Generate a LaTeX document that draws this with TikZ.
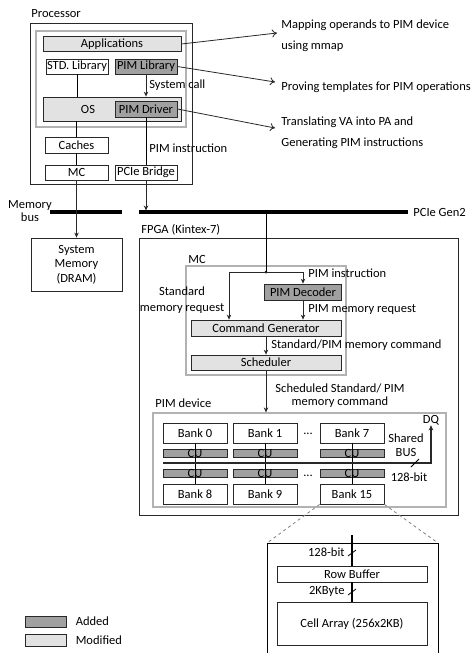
\documentclass[tikz,border=0pt]{standalone}
\usepackage{fontspec}
\setmainfont{Carlito}
\usetikzlibrary{arrows.meta,positioning,calc}
\definecolor{AddGray}{RGB}{160,160,160}
\definecolor{ModGray}{RGB}{226,226,226}
\definecolor{FrameGray}{RGB}{178,178,178}
\definecolor{LineDark}{RGB}{40,40,40}

\begin{document}
\begin{tikzpicture}[x=1pt,y=-1pt,line width=0.8pt,
    font=\fontsize{12.5}{13}\selectfont,
    blk/.style={draw=LineDark,fill=white,inner sep=0pt,
                minimum width=62pt,minimum height=15pt},
    added/.style={blk,fill=AddGray},
    modif/.style={blk,fill=ModGray},
    outer/.style={draw=LineDark,inner sep=0pt},
    gframe/.style={draw=FrameGray,line width=1.2pt,inner sep=0pt},
    lbl/.style={inner sep=0pt,anchor=west},
    arrow/.style={-{Stealth[length=5pt,width=4.5pt]},LineDark},
    note/.style={-{To[length=5pt,width=8pt]},LineDark},
    busbar/.style={line width=3.5pt},
    bank/.style={blk,minimum width=64pt,minimum height=20pt},
    cu/.style={added,minimum width=64pt,minimum height=8pt}]
    \useasboundingbox (0,0) rectangle (474,653);

    % processor side
    \node[outer,minimum width=162pt,minimum height=161pt] (proc) at (111,103.5) {};
    \node[lbl] (proclbl) at (31,14) {Processor};
    \node[gframe,minimum width=150pt,minimum height=96pt] (sw) at (111,79) {};
    \node[modif,minimum width=138pt] (app) at (112,44) {Applications};
    \node[blk] (stdlib) at (77,66.5) {STD. Library};
    \node[added] (pimlib) at (146,66.5) {PIM Library};
    \node[modif,minimum width=138pt,minimum height=24pt] (os) at (112,109) {};
    \node (ostxt) at (88,109) {OS};
    \node[added,minimum height=16pt] (pimdrv) at (146,109) {PIM Driver};
    \node[blk,minimum width=63pt,minimum height=16pt] (caches) at (76.5,145) {Caches};
    \node[blk,minimum width=63pt] (mc) at (76.5,172.5) {MC};
    \node[blk] (pcie) at (146,172.5) {PCIe Bridge};

    \draw (stdlib.south) -- (stdlib.south |- os.north);
    \draw[arrow] (pimlib.south) -- (pimlib.south |- os.north);
    \node[lbl] (syscall) at (149,85) {System call};
    \draw (os.south -| caches) -- (caches.north);
    \draw (caches) -- (mc);
    \draw (pimdrv.south) -- (pcie.north);
    \node[lbl] (pimins) at (149,148) {PIM instruction};

    % notes
    \node[lbl] (note1) at (281,25) {Mapping operands to PIM device};
    \node[lbl] (note1b) at (281,46) {using mmap};
    \node[lbl] (note2) at (281,87) {Proving templates for PIM operations};
    \node[lbl] (note3) at (281,122) {Translating VA into PA and};
    \node[lbl] (note3b) at (281,143) {Generating PIM instructions};
    \coordinate (n1) at (277,33);
    \coordinate (n2) at (275,82);
    \coordinate (n3) at (275,128);
    \draw[note] (app.east) -- (n1);
    \draw[note] (pimlib.east) -- (n2);
    \draw[note] (pimdrv.east) -- (n3);

    % buses
    \coordinate (mb1) at (50,212);
    \coordinate (mb2) at (122,212);
    \coordinate (pb1) at (139,212);
    \coordinate (pb2) at (408,212);
    \draw[busbar] (mb1) -- (mb2);
    \draw[busbar] (pb1) -- (pb2);
    \node[align=center,inner sep=0pt,font=\fontsize{12.5}{13}\selectfont] (membus) at (30,211) {Memory\\bus};
    \node[lbl] (pciegen) at (413,212) {PCIe Gen2};

    \node[blk,minimum width=91pt,minimum height=53pt,align=center,
          font=\fontsize{12.5}{14.5}\selectfont] (sysmem) at (76.5,264.5) {System\\Memory\\(DRAM)};
    \draw[arrow] (mc.south) -- (mc.south |- sysmem.north);
    \draw[arrow,shorten >=1.5pt] (pcie.south) -- (pcie.south |- pb1);

    % FPGA
    \node[outer,minimum width=319pt,minimum height=277pt] (fpga) at (298.5,376.5) {};
    \node[lbl] (fpgalbl) at (141,230) {FPGA (Kintex-7)};
    \node[gframe,minimum width=160pt,minimum height=109pt] (mcbox) at (266,320.5) {};
    \node[lbl] (mclbl) at (188,259) {MC};
    \node[added,minimum width=77pt,minimum height=16pt] (pimdec) at (303,292) {PIM Decoder};
    \node[modif,minimum width=150pt,minimum height=16pt] (cmdgen) at (266,328) {Command Generator};
    \node[modif,minimum width=150pt] (sched) at (266,362.5) {Scheduler};

    \coordinate (split) at (266,272);
    \coordinate (lsplit) at (229,272);
    \draw (pb1 -| split) -- (split);
    \fill (split) circle (1.5pt);
    \draw[arrow] (split) -| (pimdec.north);
    \draw[arrow] (split) -| (lsplit |- cmdgen.north);
    \node[lbl] (pimins2) at (308,273) {PIM instruction};
    \node[align=center,inner sep=0pt,font=\fontsize{12.5}{16}\selectfont] (stdreq) at (182,300) {Standard\\memory request};
    \draw[arrow] (pimdec.south) -- (pimdec.south |- cmdgen.north);
    \node[lbl] (pimreq) at (308,309) {PIM memory request};
    \draw[arrow] (cmdgen) -- (sched);
    \node[lbl] (memcmd) at (271,345) {Standard/PIM memory command};
    \node[align=center,inner sep=0pt,font=\fontsize{12.5}{13}\selectfont] (schcmd) at (340,395.5) {Scheduled Standard/ PIM\\memory command};

    % PIM device
    \node[gframe,minimum width=293pt,minimum height=94pt] (pimdev) at (299.5,460) {};
    \node[lbl] (pimdevlbl) at (155,403) {PIM device};
    \draw[arrow] (sched.south) -- (sched.south |- pimdev.north);

    \foreach \i/\x/\t/\b in {a/195/0/8, b/265/1/9, c/352/7/15} {
      \node[bank] (bt\i) at (\x,433) {Bank \t};
      \node[cu] (ct\i) at (\x,453) {CU};
      \node[cu] (cb\i) at (\x,473) {CU};
      \node[bank] (bb\i) at (\x,494) {Bank \b};
      \draw (bt\i.south) -- (bb\i.north);
    }
    \node (dots1) at (308,434) {...};
    \node (dots2) at (308,476) {...};

    \coordinate (busl) at (163,463);
    \coordinate (busr) at (431,463);
    \node[inner sep=0pt] (dq) at (431,420) {DQ};
    \draw[arrow,line width=1.2pt] (busl) -- (busr) -- (dq.south);
    \coordinate (bslash) at (415,463);
    \draw (bslash) ++(-4,4) -- ++(8,-8);
    \node[align=center,inner sep=0pt,font=\fontsize{12.5}{14}\selectfont] (sbus) at (406,445) {Shared\\BUS};
    \node[inner sep=0pt] (bw1) at (409,477) {128-bit};

    % bank zoom
    \coordinate (zl) at (267,543);
    \coordinate (zr) at (438,543);
    \draw[dashed,gray] (bbc.south west) -- (zl);
    \draw[dashed,gray] (bbc.south east) -- (zr);
    \draw (267,653) -- (zl) -- (zr) -- (438,653);
    \coordinate (ztop) at (352,535);
    \node[blk,minimum width=150pt,minimum height=16pt] (rowbuf) at (352,574) {Row Buffer};
    \node[blk,minimum width=150pt,minimum height=43pt] (cellarr) at (352,623.5) {Cell Array (256x2KB)};
    \draw[line width=1.2pt] (ztop) -- (rowbuf.north);
    \draw[line width=1.2pt] (rowbuf) -- (cellarr);
    \coordinate (s1) at (352,553);
    \coordinate (s2) at (352,592);
    \draw (s1) ++(-4,3) -- ++(8,-6);
    \draw (s2) ++(-4,3) -- ++(8,-6);
    \node[inner sep=0pt,anchor=east] (bw2) at (345,552) {128-bit};
    \node[inner sep=0pt,anchor=east] (kb) at (345,591) {2KByte};

    % legend
    \node[added,minimum width=41pt,minimum height=11pt] (legadd) at (45.5,621.5) {};
    \node[lbl,right=9pt of legadd] (legaddt) {Added};
    \node[modif,minimum width=41pt,minimum height=12pt] (legmod) at (45.5,640) {};
    \node[lbl,right=9pt of legmod] (legmodt) {Modified};
\end{tikzpicture}
\end{document}
